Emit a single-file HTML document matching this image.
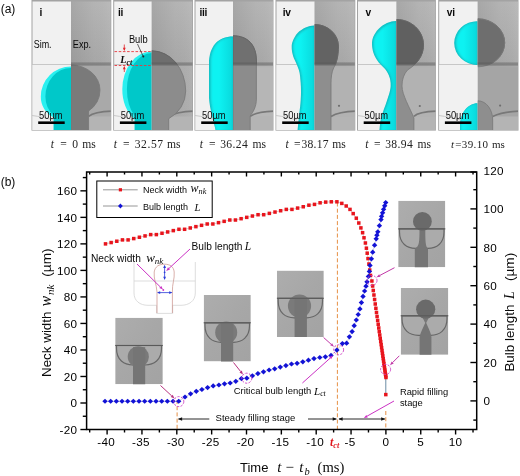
<!DOCTYPE html>
<html lang="en"><head><meta charset="utf-8"><title>Figure</title>
<style>html,body{margin:0;padding:0;background:#fff;}body{width:520px;height:476px;overflow:hidden;position:relative;}svg{position:absolute;left:0;top:0;display:block;}text{font-family:"Liberation Sans", Arial, sans-serif;fill:#0a0a0a;}.se{font-family:"Liberation Serif", "DejaVu Serif", serif;}.it{font-style:italic;}</style></head><body>
<svg width="520" height="476" viewBox="0 0 520 476">
<defs>
<filter id="b1" x="-20%" y="-20%" width="140%" height="140%"><feGaussianBlur stdDeviation="0.6"/></filter>
<filter id="b2" x="-20%" y="-20%" width="140%" height="140%"><feGaussianBlur stdDeviation="1.1"/></filter>
<filter id="b3" x="-20%" y="-20%" width="140%" height="140%"><feGaussianBlur stdDeviation="2"/></filter>
<filter id="b05" x="-20%" y="-20%" width="140%" height="140%"><feGaussianBlur stdDeviation="0.35"/></filter>
<linearGradient id="cy" x1="0" y1="0" x2="1" y2="0"><stop offset="0" stop-color="#12e6e6"/><stop offset="0.55" stop-color="#05d4d4"/><stop offset="1" stop-color="#00cccc"/></linearGradient>
</defs>
<linearGradient id="shade" x1="0" y1="0" x2="1" y2="0"><stop offset="0" stop-color="#009aa6" stop-opacity="0"/><stop offset="1" stop-color="#009aa6" stop-opacity="0.3"/></linearGradient>
<linearGradient id="hg" x1="0" y1="0" x2="1" y2="0"><stop offset="0" stop-color="#000" stop-opacity="0.09"/><stop offset="0.6" stop-color="#000" stop-opacity="0.02"/><stop offset="1" stop-color="#fff" stop-opacity="0.04"/></linearGradient>
<linearGradient id="eg" x1="0" y1="0" x2="0" y2="1"><stop offset="0" stop-color="#b8b8b8"/><stop offset="0.49" stop-color="#aaaaaa"/><stop offset="0.5" stop-color="#aeaeae"/><stop offset="1" stop-color="#acacac"/></linearGradient>
<clipPath id="up"><rect x="0" y="0" width="520" height="64.5"/></clipPath>
<clipPath id="cs0"><rect x="32" y="1.5" width="39" height="128.5"/></clipPath>
<clipPath id="ce0"><rect x="71" y="1.5" width="39.8" height="128.5"/></clipPath>
<clipPath id="cs1"><rect x="113.7" y="1.5" width="38" height="128.5"/></clipPath>
<clipPath id="ce1"><rect x="151.7" y="1.5" width="40.8" height="128.5"/></clipPath>
<clipPath id="cs2"><rect x="195" y="1.5" width="38" height="128.5"/></clipPath>
<clipPath id="ce2"><rect x="233" y="1.5" width="40" height="128.5"/></clipPath>
<clipPath id="cs3"><rect x="276" y="1.5" width="38.6" height="128.5"/></clipPath>
<clipPath id="ce3"><rect x="314.6" y="1.5" width="40.2" height="128.5"/></clipPath>
<clipPath id="cs4"><rect x="357.5" y="1.5" width="39" height="128.5"/></clipPath>
<clipPath id="ce4"><rect x="396.5" y="1.5" width="38.9" height="128.5"/></clipPath>
<clipPath id="cs5"><rect x="438.7" y="1.5" width="39" height="128.5"/></clipPath>
<clipPath id="ce5"><rect x="477.7" y="1.5" width="40.3" height="128.5"/></clipPath>
<rect x="31.5" y="0" width="79.8" height="130.6" fill="#a3a3a3"/>
<g clip-path="url(#cs0)">
<rect x="32.5" y="0" width="39" height="131" fill="#f1f1f1"/>
<rect x="32.5" y="64.5" width="39" height="66" fill="#f1f1f1"/>
<line x1="32" y1="64.5" x2="71" y2="64.5" stroke="#bdbdbd" stroke-width="0.8"/>
<path d="M32 115.5 C40 116.5 46 118 53.5 120" fill="none" stroke="#c4c4c4" stroke-width="0.9"/>
<path d="M71 66.5 A30.2 30 0 0 0 40.8 96.5 A30.2 26 0 0 0 53.7 117.81 L53.7 131 L71 131 Z" fill="#2cf0f0" filter="url(#b05)"/>
<path d="M71 67.88 A25.6 28.62 0 0 0 45.4 96.5 A25.6 26 0 0 0 53.7 115.66 L53.7 131 L71 131 Z" fill="#04c8c9" filter="url(#b1)"/>
</g>
<g clip-path="url(#ce0)">
<rect x="71" y="0" width="39.8" height="131" fill="url(#eg)"/>
<rect x="71" y="0" width="39.8" height="131" fill="url(#hg)"/>
<rect x="71" y="66" width="42.8" height="60" fill="#a9a9a9" filter="url(#b2)"/>
<rect x="88.6" y="116.4" width="39.8" height="18" fill="#b4b4b4" filter="url(#b1)"/>
<path d="M111.8 111.2 C100.8 111.6 92.8 113 88.6 116.4" fill="none" stroke="#787878" stroke-width="1.7" filter="url(#b1)"/>
<path d="M71 65 A29 25 0 0 1 100 90 A29 26.5 0 0 1 88.6 111.06 L88.6 131 L71 131 Z" fill="#7a7a7a" stroke="#777777" stroke-width="0.8" filter="url(#b1)"/>
<g clip-path="url(#up)"><path d="M71 65 A29 25 0 0 1 100 90 A29 26.5 0 0 1 88.6 111.06 L88.6 131 L71 131 Z" fill="#787878" stroke="#666666" stroke-width="1" filter="url(#b1)"/></g>
<rect x="67" y="62.9" width="47.8" height="2.4" fill="#585858" opacity="0.7" filter="url(#b2)"/>
</g>
<rect x="113.2" y="0" width="79.8" height="130.6" fill="#a3a3a3"/>
<g clip-path="url(#cs1)">
<rect x="114.2" y="0" width="38" height="131" fill="#f1f1f1"/>
<rect x="114.2" y="64.5" width="38" height="66" fill="#f1f1f1"/>
<line x1="113.7" y1="64.5" x2="151.7" y2="64.5" stroke="#bdbdbd" stroke-width="0.8"/>
<path d="M113.7 115.5 C121.7 116.5 127.7 118 134.2 120" fill="none" stroke="#c4c4c4" stroke-width="0.9"/>
<path d="M151.7 51.5 A29.4 37.5 0 0 0 122.3 89 A29.4 37.5 0 0 0 134.7 119.6 L134.7 131 L151.7 131 Z" fill="#2cf0f0" filter="url(#b05)"/>
<path d="M151.7 52.88 A24.8 36.12 0 0 0 126.9 89 A24.8 37.5 0 0 0 134.7 116.3 L134.7 131 L151.7 131 Z" fill="#04c8c9" filter="url(#b1)"/>
</g>
<g clip-path="url(#ce1)">
<rect x="151.7" y="0" width="40.8" height="131" fill="url(#eg)"/>
<rect x="151.7" y="0" width="40.8" height="131" fill="url(#hg)"/>
<rect x="168.7" y="116.4" width="40.8" height="18" fill="#b4b4b4" filter="url(#b1)"/>
<path d="M193.5 111.2 C182.5 111.6 174.5 113 168.7 116.4" fill="none" stroke="#787878" stroke-width="1.7" filter="url(#b1)"/>
<path d="M151.7 50.8 A34 40.2 0 0 1 185.7 91 A34 32 0 0 1 168.7 118.71 L168.7 131 L151.7 131 Z" fill="#8c8c8c" stroke="#777777" stroke-width="0.8" filter="url(#b1)"/>
<g clip-path="url(#up)"><path d="M151.7 50.8 A34 40.2 0 0 1 185.7 91 A34 32 0 0 1 168.7 118.71 L168.7 131 L151.7 131 Z" fill="#6e6e6e" stroke="#666666" stroke-width="1" filter="url(#b1)"/></g>
<rect x="147.7" y="62.9" width="48.8" height="2.4" fill="#585858" opacity="0.7" filter="url(#b2)"/>
</g>
<rect x="194.5" y="0" width="79" height="130.6" fill="#a3a3a3"/>
<g clip-path="url(#cs2)">
<rect x="195.5" y="0" width="38" height="131" fill="#f1f1f1"/>
<rect x="195.5" y="64.5" width="38" height="66" fill="#f1f1f1"/>
<line x1="195" y1="64.5" x2="233" y2="64.5" stroke="#bdbdbd" stroke-width="0.8"/>
<path d="M195 115.5 C203 116.5 209 118 215.5 120" fill="none" stroke="#c4c4c4" stroke-width="0.9"/>
<clipPath id="cd2"><path d="M233 36.5 C218.12 36.5 209 46 209 64 L209 98 C209.8 110 214 122 215.8 131 L233 131 Z"/></clipPath>
<path d="M233 36.5 C218.12 36.5 209 46 209 64 L209 98 C209.8 110 214 122 215.8 131 L233 131 Z" fill="#16bec2" filter="url(#b05)"/>
<g clip-path="url(#cd2)"><path d="M233 37.04 C219.24 37.04 210.8 46 210.8 64 L210.8 98 C211.6 110 214.54 122 215.8 131 L233 131 Z" fill="#0cf2f2" filter="url(#b2)"/>
<rect x="219" y="0" width="14" height="131" fill="url(#shade)"/></g>
</g>
<g clip-path="url(#ce2)">
<rect x="233" y="0" width="40" height="131" fill="url(#eg)"/>
<rect x="233" y="0" width="40" height="131" fill="url(#hg)"/>
<rect x="233" y="66" width="43" height="60" fill="#b6b6b6" filter="url(#b2)"/>
<rect x="250.2" y="116.4" width="40" height="18" fill="#b4b4b4" filter="url(#b1)"/>
<path d="M274 111.2 C263 111.6 255 113 250.2 116.4" fill="none" stroke="#787878" stroke-width="1.7" filter="url(#b1)"/>
<path d="M233 35.8 C248 35.8 256.4 45 256.4 61 L256.4 99 C256.4 107 253 112 250.2 116 L250.2 131 L233 131 Z" fill="#8c8c8c" stroke="#777777" stroke-width="0.8" filter="url(#b1)"/>
<g clip-path="url(#up)"><path d="M233 35.8 C248 35.8 256.4 45 256.4 61 L256.4 99 C256.4 107 253 112 250.2 116 L250.2 131 L233 131 Z" fill="#707070" stroke="#666666" stroke-width="1" filter="url(#b1)"/></g>
<rect x="229" y="62.9" width="48" height="2.4" fill="#585858" opacity="0.7" filter="url(#b2)"/>
</g>
<rect x="275.5" y="0" width="79.8" height="130.6" fill="#a3a3a3"/>
<g clip-path="url(#cs3)">
<rect x="276.5" y="0" width="38.6" height="131" fill="#f1f1f1"/>
<rect x="276.5" y="64.5" width="38.6" height="66" fill="#f1f1f1"/>
<line x1="276" y1="64.5" x2="314.6" y2="64.5" stroke="#bdbdbd" stroke-width="0.8"/>
<path d="M276 115.5 C284 116.5 290 118 297.1 120" fill="none" stroke="#c4c4c4" stroke-width="0.9"/>
<clipPath id="cd3"><path d="M314.6 25.5 C311.6 25.5 308.43 26.25 305.6 27.5 C302.77 28.75 299.73 30.75 297.6 33 C295.47 35.25 293.78 38.58 292.8 41 C291.82 43.42 291.65 45 291.7 47.5 C291.75 50 292.25 53.17 293.1 56 C293.95 58.83 295.75 61.83 296.8 64.5 C297.85 67.17 298.77 69.08 299.4 72 C300.03 74.92 300.33 78.67 300.6 82 C300.87 85.33 301.03 88.33 301 92 C300.97 95.67 300.72 100.17 300.4 104 C300.08 107.83 299.58 110.5 299.1 115 C298.62 119.5 298.03 125.67 297.5 131 L314.6 131 Z"/></clipPath>
<path d="M314.6 25.5 C311.6 25.5 308.43 26.25 305.6 27.5 C302.77 28.75 299.73 30.75 297.6 33 C295.47 35.25 293.78 38.58 292.8 41 C291.82 43.42 291.65 45 291.7 47.5 C291.75 50 292.25 53.17 293.1 56 C293.95 58.83 295.75 61.83 296.8 64.5 C297.85 67.17 298.77 69.08 299.4 72 C300.03 74.92 300.33 78.67 300.6 82 C300.87 85.33 301.03 88.33 301 92 C300.97 95.67 300.72 100.17 300.4 104 C300.08 107.83 299.58 110.5 299.1 115 C298.62 119.5 298.03 125.67 297.5 131 L314.6 131 Z" fill="#16bec2" filter="url(#b05)"/>
<g clip-path="url(#cd3)"><path d="M314.6 26.4 C312.11 26.4 309.71 27.15 307.13 28.4 C304.55 29.65 301.26 31.8 299.13 33.9 C297 36 295.31 38.73 294.33 41 C293.35 43.27 293.18 45 293.23 47.5 C293.28 50 293.78 53.17 294.63 56 C295.48 58.83 297.28 61.83 298.33 64.5 C299.38 67.17 300.3 69.08 300.93 72 C301.56 74.92 301.86 78.67 302.13 82 C302.4 85.33 302.56 88.33 302.53 92 C302.5 95.67 302.25 100.17 301.93 104 C301.61 107.83 301.11 110.5 300.63 115 C300.15 119.5 299.56 125.67 299.03 131 L314.6 131 Z" fill="#0cf2f2" filter="url(#b2)"/>
<rect x="300.6" y="0" width="14" height="131" fill="url(#shade)"/></g>
</g>
<g clip-path="url(#ce3)">
<rect x="314.6" y="0" width="40.2" height="131" fill="url(#eg)"/>
<rect x="314.6" y="0" width="40.2" height="131" fill="url(#hg)"/>
<rect x="314.6" y="66" width="43.2" height="60" fill="#b2b2b2" filter="url(#b2)"/>
<rect x="331" y="116.4" width="40.2" height="18" fill="#b4b4b4" filter="url(#b1)"/>
<path d="M355.8 111.2 C344.8 111.6 336.8 113 331 116.4" fill="none" stroke="#787878" stroke-width="1.7" filter="url(#b1)"/>
<path d="M314.6 24.5 C328.6 24.5 338.4 35 338.4 46 C338.4 56 336.6 63 333.6 68 C331.8 72 331 77 331 84 L331 131 L314.6 131 Z" fill="#8e8e8e" stroke="#777777" stroke-width="0.8" filter="url(#b1)"/>
<g clip-path="url(#up)"><path d="M314.6 24.5 C328.6 24.5 338.4 35 338.4 46 C338.4 56 336.6 63 333.6 68 C331.8 72 331 77 331 84 L331 131 L314.6 131 Z" fill="#646464" stroke="#666666" stroke-width="1" filter="url(#b1)"/></g>
<rect x="310.6" y="62.9" width="48.2" height="2.4" fill="#585858" opacity="0.7" filter="url(#b2)"/>
</g>
<rect x="357" y="0" width="78.9" height="130.6" fill="#a3a3a3"/>
<g clip-path="url(#cs4)">
<rect x="358" y="0" width="39" height="131" fill="#f1f1f1"/>
<rect x="358" y="64.5" width="39" height="66" fill="#f1f1f1"/>
<line x1="357.5" y1="64.5" x2="396.5" y2="64.5" stroke="#bdbdbd" stroke-width="0.8"/>
<path d="M357.5 115.5 C365.5 116.5 371.5 118 379 120" fill="none" stroke="#c4c4c4" stroke-width="0.9"/>
<clipPath id="cd4"><path d="M396.5 21 C393.33 21 390 21.67 387 23 C384 24.33 380.8 26.67 378.5 29 C376.2 31.33 374.28 34.42 373.2 37 C372.12 39.58 371.95 41.83 372 44.5 C372.05 47.17 372.67 50.42 373.5 53 C374.33 55.58 375.8 58.08 377 60 C378.2 61.92 379.28 62.92 380.7 64.5 C382.12 66.08 384.2 67.83 385.5 69.5 C386.8 71.17 387.7 72.75 388.5 74.5 C389.3 76.25 389.93 78.08 390.3 80 C390.67 81.92 390.8 84 390.7 86 C390.6 88 390.4 89.33 389.7 92 C389 94.67 387.78 98.17 386.5 102 C385.22 105.83 383.05 111.5 382 115 C380.95 118.5 380.63 120.33 380.2 123 C379.77 125.67 379.67 128.33 379.4 131 L396.5 131 Z"/></clipPath>
<path d="M396.5 21 C393.33 21 390 21.67 387 23 C384 24.33 380.8 26.67 378.5 29 C376.2 31.33 374.28 34.42 373.2 37 C372.12 39.58 371.95 41.83 372 44.5 C372.05 47.17 372.67 50.42 373.5 53 C374.33 55.58 375.8 58.08 377 60 C378.2 61.92 379.28 62.92 380.7 64.5 C382.12 66.08 384.2 67.83 385.5 69.5 C386.8 71.17 387.7 72.75 388.5 74.5 C389.3 76.25 389.93 78.08 390.3 80 C390.67 81.92 390.8 84 390.7 86 C390.6 88 390.4 89.33 389.7 92 C389 94.67 387.78 98.17 386.5 102 C385.22 105.83 383.05 111.5 382 115 C380.95 118.5 380.63 120.33 380.2 123 C379.77 125.67 379.67 128.33 379.4 131 L396.5 131 Z" fill="#16bec2" filter="url(#b05)"/>
<g clip-path="url(#cd4)"><path d="M396.5 21.9 C393.84 21.9 391.27 22.57 388.53 23.9 C385.78 25.23 382.33 27.72 380.03 29.9 C377.73 32.08 375.81 34.57 374.73 37 C373.65 39.43 373.48 41.83 373.53 44.5 C373.58 47.17 374.2 50.42 375.03 53 C375.86 55.58 377.33 58.08 378.53 60 C379.73 61.92 380.81 62.92 382.23 64.5 C383.65 66.08 385.76 67.83 387.03 69.5 C388.3 71.17 389.14 72.75 389.86 74.5 C390.58 76.25 391.05 78.08 391.35 80 C391.66 81.92 391.77 84 391.69 86 C391.6 88 391.47 89.33 390.86 92 C390.25 94.67 389.25 98.17 388.03 102 C386.81 105.83 384.58 111.5 383.53 115 C382.48 118.5 382.16 120.33 381.73 123 C381.3 125.67 381.2 128.33 380.93 131 L396.5 131 Z" fill="#0cf2f2" filter="url(#b2)"/>
<rect x="382.5" y="0" width="14" height="131" fill="url(#shade)"/></g>
</g>
<g clip-path="url(#ce4)">
<rect x="396.5" y="0" width="38.9" height="131" fill="url(#eg)"/>
<rect x="396.5" y="0" width="38.9" height="131" fill="url(#hg)"/>
<rect x="396.5" y="66" width="41.9" height="60" fill="#b2b2b2" filter="url(#b2)"/>
<rect x="413.9" y="116.4" width="38.9" height="18" fill="#b4b4b4" filter="url(#b1)"/>
<path d="M436.4 111.2 C425.4 111.6 417.4 113 413.9 116.4" fill="none" stroke="#787878" stroke-width="1.7" filter="url(#b1)"/>
<path d="M396.5 19.5 C411.5 19.5 423.5 31 423.5 45 C423.5 57 415.5 65 407.5 70 C404 74 402 79 402 86 C402 95 410 108 413.9 118 L413.9 131 L396.5 131 Z" fill="#8e8e8e" stroke="#777777" stroke-width="0.8" filter="url(#b1)"/>
<g clip-path="url(#up)"><path d="M396.5 19.5 C411.5 19.5 423.5 31 423.5 45 C423.5 57 415.5 65 407.5 70 C404 74 402 79 402 86 C402 95 410 108 413.9 118 L413.9 131 L396.5 131 Z" fill="#606060" stroke="#666666" stroke-width="1" filter="url(#b1)"/></g>
<rect x="392.5" y="62.9" width="46.9" height="2.4" fill="#585858" opacity="0.7" filter="url(#b2)"/>
</g>
<rect x="438.2" y="0" width="80.3" height="130.6" fill="#a3a3a3"/>
<g clip-path="url(#cs5)">
<rect x="439.2" y="0" width="39" height="131" fill="#f1f1f1"/>
<rect x="439.2" y="64.5" width="39" height="66" fill="#f1f1f1"/>
<line x1="438.7" y1="64.5" x2="477.7" y2="64.5" stroke="#bdbdbd" stroke-width="0.8"/>
<path d="M438.7 115.5 C446.7 116.5 452.7 118 460.2 120" fill="none" stroke="#c4c4c4" stroke-width="0.9"/>
<clipPath id="cd5"><path d="M477.7 21.2 A23.5 21.9 0 0 0 477.7 65 Z M477.7 103.3 C467.7 103.3 460 113 460 126 L460 131 L477.7 131 Z"/></clipPath>
<path d="M477.7 21.2 A23.5 21.9 0 0 0 477.7 65 Z M477.7 103.3 C467.7 103.3 460 113 460 126 L460 131 L477.7 131 Z" fill="#16bec2" filter="url(#b05)"/>
<g clip-path="url(#cd5)"><path d="M477.7 21.74 A21.7 21.36 0 0 0 477.7 64.46 Z M477.7 103.3 C467.7 103.3 460.72 113 460.72 126 L460.72 131 L477.7 131 Z" fill="#0cf2f2" filter="url(#b2)"/>
<rect x="463.7" y="0" width="14" height="131" fill="url(#shade)"/></g>
</g>
<g clip-path="url(#ce5)">
<rect x="477.7" y="0" width="40.3" height="131" fill="url(#eg)"/>
<rect x="477.7" y="0" width="40.3" height="131" fill="url(#hg)"/>
<rect x="477.7" y="66" width="43.3" height="60" fill="#a5a5a5" filter="url(#b2)"/>
<rect x="492.7" y="116.4" width="40.3" height="18" fill="#b4b4b4" filter="url(#b1)"/>
<path d="M519 111.2 C508 111.6 500 113 492.7 116.4" fill="none" stroke="#787878" stroke-width="1.7" filter="url(#b1)"/>
<path d="M477.7 18.8 A27 24 0 0 1 477.7 66.8 Z M477.7 100.8 C486.7 100.8 492.7 110 492.7 120 L492.7 131 L477.7 131 Z" fill="#8e8e8e" stroke="#777777" stroke-width="0.8" filter="url(#b1)"/>
<g clip-path="url(#up)"><path d="M477.7 18.8 A27 24 0 0 1 477.7 66.8 Z M477.7 100.8 C486.7 100.8 492.7 110 492.7 120 L492.7 131 L477.7 131 Z" fill="#6e6e6e" stroke="#777777" stroke-width="1" filter="url(#b1)"/></g>
<rect x="473.7" y="62.9" width="48.3" height="2.4" fill="#585858" opacity="0.7" filter="url(#b2)"/>
</g>
<circle cx="339" cy="105.8" r="1.1" fill="#6e6e6e" filter="url(#b05)"/>
<circle cx="419.8" cy="106" r="1.1" fill="#6e6e6e" filter="url(#b05)"/>
<circle cx="500.1" cy="105.6" r="1.1" fill="#6e6e6e" filter="url(#b05)"/>
<text x="39.6" y="15.7" font-size="10.2" font-weight="bold" letter-spacing="-0.3">i</text>
<text x="117.9" y="15.7" font-size="10.2" font-weight="bold" letter-spacing="-0.3">ii</text>
<text x="199.4" y="15.7" font-size="10.2" font-weight="bold" letter-spacing="-0.3">iii</text>
<text x="282.7" y="15.7" font-size="10.2" font-weight="bold" letter-spacing="-0.3">iv</text>
<text x="365.5" y="15.7" font-size="10.2" font-weight="bold" letter-spacing="-0.3">v</text>
<text x="446.8" y="15.7" font-size="10.2" font-weight="bold" letter-spacing="-0.3">vi</text>
<text x="33.7" y="47.6" font-size="10.3" textLength="17.9" lengthAdjust="spacingAndGlyphs">Sim.</text>
<text x="72.8" y="47.6" font-size="10.3" textLength="18.3" lengthAdjust="spacingAndGlyphs">Exp.</text>
<rect x="38.2" y="121.4" width="26.5" height="2.6" fill="#000"/>
<text x="39" y="119.3" font-size="10.3" textLength="23.6" lengthAdjust="spacingAndGlyphs">50µm</text>
<rect x="119.9" y="121.4" width="26.5" height="2.6" fill="#000"/>
<text x="120.7" y="119.3" font-size="10.3" textLength="23.6" lengthAdjust="spacingAndGlyphs">50µm</text>
<rect x="201.2" y="121.4" width="26.5" height="2.6" fill="#000"/>
<text x="202" y="119.3" font-size="10.3" textLength="23.6" lengthAdjust="spacingAndGlyphs">50µm</text>
<rect x="282.2" y="121.4" width="26.5" height="2.6" fill="#000"/>
<text x="283" y="119.3" font-size="10.3" textLength="23.6" lengthAdjust="spacingAndGlyphs">50µm</text>
<rect x="363.7" y="121.4" width="26.5" height="2.6" fill="#000"/>
<text x="364.5" y="119.3" font-size="10.3" textLength="23.6" lengthAdjust="spacingAndGlyphs">50µm</text>
<rect x="444.9" y="121.4" width="26.5" height="2.6" fill="#000"/>
<text x="445.7" y="119.3" font-size="10.3" textLength="23.6" lengthAdjust="spacingAndGlyphs">50µm</text>
<g stroke="#e8383e" stroke-width="0.9" stroke-dasharray="2.6 1.6" fill="none">
<line x1="114.5" y1="51.6" x2="152" y2="51.6"/><line x1="114.5" y1="65.5" x2="152" y2="65.5"/></g>
<g stroke="#e0252b" stroke-width="0.8" fill="#e0252b"><line x1="124.3" y1="44.5" x2="124.3" y2="50"/><path d="M124.3 51 L122.9 47.8 L125.7 47.8 Z" stroke="none"/><line x1="124.3" y1="72" x2="124.3" y2="67"/><path d="M124.3 66 L122.9 69.2 L125.7 69.2 Z" stroke="none"/></g>
<text x="128.9" y="42.7" font-size="10" textLength="18.7" lengthAdjust="spacingAndGlyphs">Bulb</text>
<line x1="137.5" y1="44" x2="143" y2="56" stroke="#222" stroke-width="0.7"/><circle cx="143.3" cy="56.6" r="1" fill="#222"/>
<text x="120.3" y="63.3" font-size="10.2" class="se it" font-weight="bold">L<tspan font-size="7.8" dy="1.8">ct</tspan></text>
<text y="148" font-size="11.6" class="se" style="fill:#222"><tspan x="50.8" class="it">t</tspan><tspan x="60.2">=</tspan><tspan x="72.3">0</tspan><tspan x="82.2">ms</tspan></text>
<text y="148" font-size="11.6" class="se" style="fill:#222"><tspan x="113.8" class="it">t</tspan><tspan x="123">=</tspan><tspan x="134.8" textLength="28.2" lengthAdjust="spacing">32.57</tspan><tspan x="167">ms</tspan></text>
<text y="148" font-size="11.6" class="se" style="fill:#222"><tspan x="199.8" class="it">t</tspan><tspan x="209">=</tspan><tspan x="220.2" textLength="27.6" lengthAdjust="spacing">36.24</tspan><tspan x="252.5">ms</tspan></text>
<text y="148" font-size="11.6" class="se" style="fill:#222"><tspan x="285.4" class="it">t</tspan><tspan x="294">=</tspan><tspan x="301.4" textLength="27.1" lengthAdjust="spacing">38.17</tspan><tspan x="332.2">ms</tspan></text>
<text y="148" font-size="11.6" class="se" style="fill:#222"><tspan x="365.2" class="it">t</tspan><tspan x="374">=</tspan><tspan x="385.2" textLength="27.6" lengthAdjust="spacing">38.94</tspan><tspan x="417.5">ms</tspan></text>
<text y="148" font-size="11" class="se" style="fill:#222"><tspan x="451" class="it">t</tspan><tspan x="455.2">=</tspan><tspan x="461.8" textLength="26.2" lengthAdjust="spacing">39.10</tspan><tspan x="492">ms</tspan></text>
<text x="0.7" y="13.4" font-size="12">(a)</text>
<text x="0.7" y="186.3" font-size="12">(b)</text>
<linearGradient id="ig" x1="0" y1="0" x2="1" y2="1"><stop offset="0" stop-color="#adadad"/><stop offset="0.5" stop-color="#a7a7a7"/><stop offset="1" stop-color="#a3a3a3"/></linearGradient>
<clipPath id="in115"><rect x="115.2" y="317.7" width="47.6" height="66.5"/></clipPath>
<g clip-path="url(#in115)">
<rect x="115.2" y="317.7" width="47.6" height="66.5" fill="url(#ig)"/>
<path d="M116.5 345.5 L116.5 348.5 C116.5 359.93 124.15 365 132.7 365 L145.3 365 C153.85 365 161.5 359.93 161.5 348.5 L161.5 345.5 Z" fill="#ababab" stroke="#686868" stroke-width="1.2" filter="url(#b05)"/>
<g filter="url(#b05)"><circle cx="138.3" cy="356.8" r="10.6" fill="#7a7a7a"/><rect x="133" y="347.2" width="12.2" height="40.7" fill="#747474"/></g>
<rect x="113.2" y="344.9" width="51.6" height="1.15" fill="#5a5a5a" filter="url(#b05)"/>
</g>
<clipPath id="in203"><rect x="203.7" y="294.9" width="47.1" height="66.5"/></clipPath>
<g clip-path="url(#in203)">
<rect x="203.7" y="294.9" width="47.1" height="66.5" fill="url(#ig)"/>
<path d="M205 322.8 L205 325.8 C205 337.23 212.56 342.3 221.02 342.3 L233.48 342.3 C241.94 342.3 249.5 337.23 249.5 325.8 L249.5 322.8 Z" fill="#ababab" stroke="#686868" stroke-width="1.2" filter="url(#b05)"/>
<g filter="url(#b05)"><circle cx="226.2" cy="332.4" r="11" fill="#7a7a7a"/><rect x="221" y="323.8" width="12.2" height="40.6" fill="#747474"/></g>
<rect x="201.7" y="322.2" width="51.1" height="1.15" fill="#5a5a5a" filter="url(#b05)"/>
</g>
<clipPath id="in276"><rect x="276.9" y="270.6" width="46.9" height="66.5"/></clipPath>
<g clip-path="url(#in276)">
<rect x="276.9" y="270.6" width="46.9" height="66.5" fill="url(#ig)"/>
<path d="M278.2 298.3 L278.2 301.3 C278.2 312.73 285.73 317.8 294.15 317.8 L306.55 317.8 C314.97 317.8 322.5 312.73 322.5 301.3 L322.5 298.3 Z" fill="#ababab" stroke="#686868" stroke-width="1.2" filter="url(#b05)"/>
<g filter="url(#b05)"><circle cx="299.5" cy="306" r="11.6" fill="#7a7a7a"/><rect x="294.6" y="299.3" width="12.3" height="40.8" fill="#747474"/></g>
<rect x="274.9" y="297.7" width="50.9" height="1.15" fill="#5a5a5a" filter="url(#b05)"/>
</g>
<clipPath id="in398"><rect x="398.2" y="200.7" width="47.1" height="66.5"/></clipPath>
<g clip-path="url(#in398)">
<rect x="398.2" y="200.7" width="47.1" height="66.5" fill="url(#ig)"/>
<path d="M399.5 228.9 L399.5 231.9 C399.5 243.33 407.06 248.4 415.52 248.4 L427.98 248.4 C436.44 248.4 444 243.33 444 231.9 L444 228.9 Z" fill="#ababab" stroke="#686868" stroke-width="1.2" filter="url(#b05)"/>
<g filter="url(#b05)"><path fill="#747474" d="M419.5 228.8 C419.5 240.8 419.4 247.3 414.8 248.3 L414.8 269.2 L428 269.2 L428 248.3 C425.4 247.3 425.3 240.8 425.3 228.8 Z"/><circle cx="422.4" cy="221.4" r="9.4" fill="#6a6a6a"/></g>
<rect x="396.2" y="228.3" width="51.1" height="1.15" fill="#5a5a5a" filter="url(#b05)"/>
</g>
<clipPath id="in400"><rect x="400.7" y="288" width="47.6" height="66.8"/></clipPath>
<g clip-path="url(#in400)">
<rect x="400.7" y="288" width="47.6" height="66.8" fill="url(#ig)"/>
<path d="M402 315.8 L402 318.8 C402 330.23 409.65 335.3 418.2 335.3 L430.8 335.3 C439.35 335.3 447 330.23 447 318.8 L447 315.8 Z" fill="#ababab" stroke="#686868" stroke-width="1.2" filter="url(#b05)"/>
<g filter="url(#b05)"><path fill="#747474" d="M425.7 321.8 C423.7 326.8 420.7 331.8 419.6 336.8 L419.6 356.8 L431.4 356.8 L431.4 336.8 C430.7 331.8 427.7 326.8 425.7 321.8 Z"/><path fill="#787878" d="M422.3 317.3 L429.1 317.3 L425.7 323.8 Z"/><circle cx="425.7" cy="309.2" r="9.6" fill="#6a6a6a"/></g>
<rect x="398.7" y="315.2" width="51.6" height="1.15" fill="#5a5a5a" filter="url(#b05)"/>
</g>
<g fill="none" stroke="#d4d4d4" stroke-width="0.8">
<line x1="134" y1="281" x2="195.3" y2="281"/>
<path d="M134 262 L134 293 C134 301 140 305.3 148 305.3 L156.6 305.3 L156.6 313.4 L172.7 313.4 L172.7 305.3 L181 305.3 C189 305.3 195.3 301 195.3 293 L195.3 262"/>
</g>
<path d="M157 313 L157 292 C156.5 284 153.5 279 154.2 272 C155 266.5 159 264.2 164.5 264.2 C170 264.2 173.6 266.5 174.2 272 C174.8 279 172 284 172.4 292 L172.4 313" fill="none" stroke="#c98e86" stroke-width="0.7"/>
<g stroke="#2b3bd8" stroke-width="0.8" fill="#2b3bd8">
<line x1="164.6" y1="266" x2="164.6" y2="279"/><path d="M164.6 264.8 L163.2 268 L166 268 Z" stroke="none"/><path d="M164.6 280 L163.2 276.8 L166 276.8 Z" stroke="none"/>
<circle cx="164.6" cy="272.3" r="0.9" stroke="none"/>
<line x1="158" y1="292.6" x2="171.5" y2="292.6"/><path d="M157 292.6 L160.2 291.2 L160.2 294 Z" stroke="none"/><path d="M172.4 292.6 L169.2 291.2 L169.2 294 Z" stroke="none"/>
</g>
<line x1="137" y1="264" x2="160.29" y2="286.93" stroke="#cb32c4" stroke-width="1.0"/>
<path d="M163 289.6 L159.28 287.96 L161.31 285.9 Z" fill="#cb32c4"/>
<line x1="190" y1="249" x2="168.99" y2="268.42" stroke="#cb32c4" stroke-width="1.0"/>
<path d="M166.2 271 L168.01 267.36 L169.97 269.48 Z" fill="#cb32c4"/>
<circle cx="163.3" cy="290" r="0.9" fill="#cb32c4"/>
<g stroke="#e58a3c" stroke-width="0.95" stroke-dasharray="4 2.2" fill="none">
<line x1="177.1" y1="400" x2="177.1" y2="430"/>
<line x1="337.4" y1="202.5" x2="337.4" y2="430"/>
<line x1="385.8" y1="411" x2="385.8" y2="430"/>
</g>
<polyline points="105.5,243.88 111.15,242.55 116.8,241.23 122.45,239.9 128.1,239.9 133.75,238.58 139.4,237.25 145.05,235.92 150.7,234.6 156.35,234.6 162,233.27 167.65,231.95 173.3,230.62 178.95,229.29 184.6,229.29 190.25,227.97 195.9,226.64 201.55,225.32 207.2,223.99 212.85,223.99 218.5,222.66 224.15,221.34 229.8,220.01 235.45,220.01 241.1,218.69 246.75,217.36 252.4,216.03 258.05,214.71 263.7,214.71 269.35,213.38 275,212.06 280.65,210.73 286.3,209.4 291.95,209.4 297.6,208.08 303.25,206.75 308.9,205.2 314.5,204.4 320.1,202.8 325.7,202.1 331.3,201.8 336.9,201.8 341.8,203.4 346.2,206 350,209.4 353.2,213.6 356.3,218.2 358.8,223 360.9,227.9 362.6,232.7 364,237.8 365.4,243 366.4,248.2 367.2,253.2 368,258.6 368.9,264 369.7,270 370.5,275.4 371.9,281 372.63,286 373.28,290.5 373.94,295 374.6,299.5 375.25,304 375.88,308.3 376.49,312.5 377.07,316.5 377.66,320.5 378.21,324.3 378.75,328 379.27,331.6 379.77,335 380.25,338.3 380.71,341.5 381.17,344.6 381.6,347.6 382.03,350.5 382.43,353.3 382.83,356 383.21,358.6 383.57,361.1 383.92,363.5 384.26,365.8 384.58,368 384.88,370.1 385.17,372.1 385.45,374 385.71,375.8 385.96,377.5" fill="none" stroke="#b9a0a0" stroke-width="0.5"/>
<polyline points="105,401.25 110.67,401.25 116.34,401.25 122.01,401.25 127.68,401.25 133.35,401.25 139.02,401.25 144.69,401.25 150.36,401.25 156.03,401.25 161.7,401.25 167.37,401.25 173.04,401.25 178.71,401.25 185,397 190.6,393.8 196.3,391.3 201.9,389.5 207.6,387.6 213.2,385.9 218.9,385 224.5,383.8 230.2,383 235.8,381.3 241.4,378.6 246.8,378.2 252.4,375.8 257.9,373.6 263.5,371.8 269.1,370 274.7,368.8 280.3,367.1 285.9,365.6 291.5,364 297.1,363.3 302.8,361.8 308.4,360.2 314,358.6 319.8,357.5 325.4,356.8 331,355.4 336.9,350.1 342.4,343.6 346.6,343.2 349.4,336.8 352.1,331.6 354.2,325.7 356.3,320 358.2,314.5 359.9,308.9 361.4,302.6 363,296.4 364.6,291 366,286.2 367,281.8 368.4,276.4 369.4,271.4 370,265.4 371.4,258.8 372.7,252.2 374.6,245.2 376.2,238.8 376.9,235.2 377.8,231.8 379.4,225.7 381,219.6 381.6,216.3 382.6,212.8 383.6,209.3 384.7,205.8 385.7,202.6" fill="none" stroke="#9a9ac8" stroke-width="0.5"/>
<line x1="385.8" y1="378" x2="385.8" y2="394.6" stroke="#5b7f9a" stroke-width="0.9"/>
<g fill="#e8141c"><rect x="103.75" y="242.13" width="3.5" height="3.5"/><rect x="109.4" y="240.8" width="3.5" height="3.5"/><rect x="115.05" y="239.48" width="3.5" height="3.5"/><rect x="120.7" y="238.15" width="3.5" height="3.5"/><rect x="126.35" y="238.15" width="3.5" height="3.5"/><rect x="132" y="236.83" width="3.5" height="3.5"/><rect x="137.65" y="235.5" width="3.5" height="3.5"/><rect x="143.3" y="234.17" width="3.5" height="3.5"/><rect x="148.95" y="232.85" width="3.5" height="3.5"/><rect x="154.6" y="232.85" width="3.5" height="3.5"/><rect x="160.25" y="231.52" width="3.5" height="3.5"/><rect x="165.9" y="230.2" width="3.5" height="3.5"/><rect x="171.55" y="228.87" width="3.5" height="3.5"/><rect x="177.2" y="227.54" width="3.5" height="3.5"/><rect x="182.85" y="227.54" width="3.5" height="3.5"/><rect x="188.5" y="226.22" width="3.5" height="3.5"/><rect x="194.15" y="224.89" width="3.5" height="3.5"/><rect x="199.8" y="223.57" width="3.5" height="3.5"/><rect x="205.45" y="222.24" width="3.5" height="3.5"/><rect x="211.1" y="222.24" width="3.5" height="3.5"/><rect x="216.75" y="220.91" width="3.5" height="3.5"/><rect x="222.4" y="219.59" width="3.5" height="3.5"/><rect x="228.05" y="218.26" width="3.5" height="3.5"/><rect x="233.7" y="218.26" width="3.5" height="3.5"/><rect x="239.35" y="216.94" width="3.5" height="3.5"/><rect x="245" y="215.61" width="3.5" height="3.5"/><rect x="250.65" y="214.28" width="3.5" height="3.5"/><rect x="256.3" y="212.96" width="3.5" height="3.5"/><rect x="261.95" y="212.96" width="3.5" height="3.5"/><rect x="267.6" y="211.63" width="3.5" height="3.5"/><rect x="273.25" y="210.31" width="3.5" height="3.5"/><rect x="278.9" y="208.98" width="3.5" height="3.5"/><rect x="284.55" y="207.65" width="3.5" height="3.5"/><rect x="290.2" y="207.65" width="3.5" height="3.5"/><rect x="295.85" y="206.33" width="3.5" height="3.5"/><rect x="301.5" y="205" width="3.5" height="3.5"/><rect x="307.15" y="203.45" width="3.5" height="3.5"/><rect x="312.75" y="202.65" width="3.5" height="3.5"/><rect x="318.35" y="201.05" width="3.5" height="3.5"/><rect x="323.95" y="200.35" width="3.5" height="3.5"/><rect x="329.55" y="200.05" width="3.5" height="3.5"/><rect x="335.15" y="200.05" width="3.5" height="3.5"/><rect x="340.05" y="201.65" width="3.5" height="3.5"/><rect x="344.45" y="204.25" width="3.5" height="3.5"/><rect x="348.25" y="207.65" width="3.5" height="3.5"/><rect x="351.45" y="211.85" width="3.5" height="3.5"/><rect x="354.55" y="216.45" width="3.5" height="3.5"/><rect x="357.05" y="221.25" width="3.5" height="3.5"/><rect x="359.15" y="226.15" width="3.5" height="3.5"/><rect x="360.85" y="230.95" width="3.5" height="3.5"/><rect x="362.25" y="236.05" width="3.5" height="3.5"/><rect x="363.65" y="241.25" width="3.5" height="3.5"/><rect x="364.65" y="246.45" width="3.5" height="3.5"/><rect x="365.45" y="251.45" width="3.5" height="3.5"/><rect x="366.25" y="256.85" width="3.5" height="3.5"/><rect x="367.15" y="262.25" width="3.5" height="3.5"/><rect x="367.95" y="268.25" width="3.5" height="3.5"/><rect x="368.75" y="273.65" width="3.5" height="3.5"/><rect x="370.15" y="279.25" width="3.5" height="3.5"/><rect x="370.88" y="284.25" width="3.5" height="3.5"/><rect x="371.53" y="288.75" width="3.5" height="3.5"/><rect x="372.19" y="293.25" width="3.5" height="3.5"/><rect x="372.85" y="297.75" width="3.5" height="3.5"/><rect x="373.5" y="302.25" width="3.5" height="3.5"/><rect x="374.13" y="306.55" width="3.5" height="3.5"/><rect x="374.74" y="310.75" width="3.5" height="3.5"/><rect x="375.32" y="314.75" width="3.5" height="3.5"/><rect x="375.91" y="318.75" width="3.5" height="3.5"/><rect x="376.46" y="322.55" width="3.5" height="3.5"/><rect x="377" y="326.25" width="3.5" height="3.5"/><rect x="377.52" y="329.85" width="3.5" height="3.5"/><rect x="378.02" y="333.25" width="3.5" height="3.5"/><rect x="378.5" y="336.55" width="3.5" height="3.5"/><rect x="378.96" y="339.75" width="3.5" height="3.5"/><rect x="379.42" y="342.85" width="3.5" height="3.5"/><rect x="379.85" y="345.85" width="3.5" height="3.5"/><rect x="380.28" y="348.75" width="3.5" height="3.5"/><rect x="380.68" y="351.55" width="3.5" height="3.5"/><rect x="381.08" y="354.25" width="3.5" height="3.5"/><rect x="381.46" y="356.85" width="3.5" height="3.5"/><rect x="381.82" y="359.35" width="3.5" height="3.5"/><rect x="382.17" y="361.75" width="3.5" height="3.5"/><rect x="382.51" y="364.05" width="3.5" height="3.5"/><rect x="382.83" y="366.25" width="3.5" height="3.5"/><rect x="383.13" y="368.35" width="3.5" height="3.5"/><rect x="383.42" y="370.35" width="3.5" height="3.5"/><rect x="383.7" y="372.25" width="3.5" height="3.5"/><rect x="383.96" y="374.05" width="3.5" height="3.5"/><rect x="384.21" y="375.75" width="3.5" height="3.5"/><rect x="384.05" y="392.85" width="3.5" height="3.5"/></g>
<g fill="#1212d6"><path d="M105 398.65l2.7 2.6l-2.7 2.6l-2.7-2.6z"/><path d="M110.67 398.65l2.7 2.6l-2.7 2.6l-2.7-2.6z"/><path d="M116.34 398.65l2.7 2.6l-2.7 2.6l-2.7-2.6z"/><path d="M122.01 398.65l2.7 2.6l-2.7 2.6l-2.7-2.6z"/><path d="M127.68 398.65l2.7 2.6l-2.7 2.6l-2.7-2.6z"/><path d="M133.35 398.65l2.7 2.6l-2.7 2.6l-2.7-2.6z"/><path d="M139.02 398.65l2.7 2.6l-2.7 2.6l-2.7-2.6z"/><path d="M144.69 398.65l2.7 2.6l-2.7 2.6l-2.7-2.6z"/><path d="M150.36 398.65l2.7 2.6l-2.7 2.6l-2.7-2.6z"/><path d="M156.03 398.65l2.7 2.6l-2.7 2.6l-2.7-2.6z"/><path d="M161.7 398.65l2.7 2.6l-2.7 2.6l-2.7-2.6z"/><path d="M167.37 398.65l2.7 2.6l-2.7 2.6l-2.7-2.6z"/><path d="M173.04 398.65l2.7 2.6l-2.7 2.6l-2.7-2.6z"/><path d="M178.71 398.65l2.7 2.6l-2.7 2.6l-2.7-2.6z"/><path d="M185 394.4l2.7 2.6l-2.7 2.6l-2.7-2.6z"/><path d="M190.6 391.2l2.7 2.6l-2.7 2.6l-2.7-2.6z"/><path d="M196.3 388.7l2.7 2.6l-2.7 2.6l-2.7-2.6z"/><path d="M201.9 386.9l2.7 2.6l-2.7 2.6l-2.7-2.6z"/><path d="M207.6 385l2.7 2.6l-2.7 2.6l-2.7-2.6z"/><path d="M213.2 383.3l2.7 2.6l-2.7 2.6l-2.7-2.6z"/><path d="M218.9 382.4l2.7 2.6l-2.7 2.6l-2.7-2.6z"/><path d="M224.5 381.2l2.7 2.6l-2.7 2.6l-2.7-2.6z"/><path d="M230.2 380.4l2.7 2.6l-2.7 2.6l-2.7-2.6z"/><path d="M235.8 378.7l2.7 2.6l-2.7 2.6l-2.7-2.6z"/><path d="M241.4 376l2.7 2.6l-2.7 2.6l-2.7-2.6z"/><path d="M246.8 375.6l2.7 2.6l-2.7 2.6l-2.7-2.6z"/><path d="M252.4 373.2l2.7 2.6l-2.7 2.6l-2.7-2.6z"/><path d="M257.9 371l2.7 2.6l-2.7 2.6l-2.7-2.6z"/><path d="M263.5 369.2l2.7 2.6l-2.7 2.6l-2.7-2.6z"/><path d="M269.1 367.4l2.7 2.6l-2.7 2.6l-2.7-2.6z"/><path d="M274.7 366.2l2.7 2.6l-2.7 2.6l-2.7-2.6z"/><path d="M280.3 364.5l2.7 2.6l-2.7 2.6l-2.7-2.6z"/><path d="M285.9 363l2.7 2.6l-2.7 2.6l-2.7-2.6z"/><path d="M291.5 361.4l2.7 2.6l-2.7 2.6l-2.7-2.6z"/><path d="M297.1 360.7l2.7 2.6l-2.7 2.6l-2.7-2.6z"/><path d="M302.8 359.2l2.7 2.6l-2.7 2.6l-2.7-2.6z"/><path d="M308.4 357.6l2.7 2.6l-2.7 2.6l-2.7-2.6z"/><path d="M314 356l2.7 2.6l-2.7 2.6l-2.7-2.6z"/><path d="M319.8 354.9l2.7 2.6l-2.7 2.6l-2.7-2.6z"/><path d="M325.4 354.2l2.7 2.6l-2.7 2.6l-2.7-2.6z"/><path d="M331 352.8l2.7 2.6l-2.7 2.6l-2.7-2.6z"/><path d="M336.9 347.5l2.7 2.6l-2.7 2.6l-2.7-2.6z"/><path d="M342.4 341l2.7 2.6l-2.7 2.6l-2.7-2.6z"/><path d="M346.6 340.6l2.7 2.6l-2.7 2.6l-2.7-2.6z"/><path d="M349.4 334.2l2.7 2.6l-2.7 2.6l-2.7-2.6z"/><path d="M352.1 329l2.7 2.6l-2.7 2.6l-2.7-2.6z"/><path d="M354.2 323.1l2.7 2.6l-2.7 2.6l-2.7-2.6z"/><path d="M356.3 317.4l2.7 2.6l-2.7 2.6l-2.7-2.6z"/><path d="M358.2 311.9l2.7 2.6l-2.7 2.6l-2.7-2.6z"/><path d="M359.9 306.3l2.7 2.6l-2.7 2.6l-2.7-2.6z"/><path d="M361.4 300l2.7 2.6l-2.7 2.6l-2.7-2.6z"/><path d="M363 293.8l2.7 2.6l-2.7 2.6l-2.7-2.6z"/><path d="M364.6 288.4l2.7 2.6l-2.7 2.6l-2.7-2.6z"/><path d="M366 283.6l2.7 2.6l-2.7 2.6l-2.7-2.6z"/><path d="M367 279.2l2.7 2.6l-2.7 2.6l-2.7-2.6z"/><path d="M368.4 273.8l2.7 2.6l-2.7 2.6l-2.7-2.6z"/><path d="M369.4 268.8l2.7 2.6l-2.7 2.6l-2.7-2.6z"/><path d="M370 262.8l2.7 2.6l-2.7 2.6l-2.7-2.6z"/><path d="M371.4 256.2l2.7 2.6l-2.7 2.6l-2.7-2.6z"/><path d="M372.7 249.6l2.7 2.6l-2.7 2.6l-2.7-2.6z"/><path d="M374.6 242.6l2.7 2.6l-2.7 2.6l-2.7-2.6z"/><path d="M376.2 236.2l2.7 2.6l-2.7 2.6l-2.7-2.6z"/><path d="M376.9 232.6l2.7 2.6l-2.7 2.6l-2.7-2.6z"/><path d="M377.8 229.2l2.7 2.6l-2.7 2.6l-2.7-2.6z"/><path d="M379.4 223.1l2.7 2.6l-2.7 2.6l-2.7-2.6z"/><path d="M381 217l2.7 2.6l-2.7 2.6l-2.7-2.6z"/><path d="M381.6 213.7l2.7 2.6l-2.7 2.6l-2.7-2.6z"/><path d="M382.6 210.2l2.7 2.6l-2.7 2.6l-2.7-2.6z"/><path d="M383.6 206.7l2.7 2.6l-2.7 2.6l-2.7-2.6z"/><path d="M384.7 203.2l2.7 2.6l-2.7 2.6l-2.7-2.6z"/><path d="M385.7 200l2.7 2.6l-2.7 2.6l-2.7-2.6z"/></g>
<g fill="none" stroke="#cc40c4" stroke-width="0.95" stroke-dasharray="2.2 1.4">
<circle cx="178.8" cy="401.6" r="5"/>
<circle cx="246.8" cy="378.2" r="5"/>
<circle cx="338.6" cy="349.8" r="5"/>
<circle cx="372" cy="280.5" r="5"/>
<circle cx="385.6" cy="369.4" r="5"/>
</g>
<line x1="160.5" y1="385.5" x2="171.72" y2="395.91" stroke="#b8327f" stroke-width="1.0"/>
<path d="M174.5 398.5 L170.73 396.97 L172.7 394.86 Z" fill="#b8327f"/>
<line x1="233.5" y1="362.5" x2="240.64" y2="371.52" stroke="#b8327f" stroke-width="1.0"/>
<path d="M243 374.5 L239.51 372.42 L241.77 370.62 Z" fill="#b8327f"/>
<line x1="323.6" y1="337.5" x2="331.17" y2="344.27" stroke="#c238a8" stroke-width="1.0"/>
<path d="M334 346.8 L330.2 345.34 L332.13 343.19 Z" fill="#c238a8"/>
<line x1="302.4" y1="383" x2="330.17" y2="358.13" stroke="#cb32c4" stroke-width="1.0"/>
<path d="M333 355.6 L331.13 359.21 L329.21 357.06 Z" fill="#cb32c4"/>
<line x1="394.5" y1="267.7" x2="379.86" y2="275.43" stroke="#c238a8" stroke-width="1.0"/>
<path d="M376.5 277.2 L379.19 274.15 L380.53 276.7 Z" fill="#c238a8"/>
<line x1="399.3" y1="355.8" x2="392.67" y2="362.5" stroke="#c238a8" stroke-width="1.0"/>
<path d="M390 365.2 L391.65 361.48 L393.7 363.51 Z" fill="#c238a8"/>
<line x1="394" y1="401" x2="367.11" y2="416.14" stroke="#cb32c4" stroke-width="1.0"/>
<path d="M363.8 418 L366.4 414.88 L367.82 417.39 Z" fill="#cb32c4"/>
<line x1="178.5" y1="419" x2="209.3" y2="419" stroke="#111" stroke-width="0.9"/>
<path d="M178 419 L182.1 417.2 L182.1 420.8 Z" fill="#111"/>
<line x1="308" y1="419" x2="336.3" y2="419" stroke="#111" stroke-width="0.9"/>
<path d="M336.8 419 L332.7 417.2 L332.7 420.8 Z" fill="#111"/>
<line x1="339" y1="419" x2="384.8" y2="419" stroke="#111" stroke-width="0.9"/>
<path d="M338.5 419 L342.6 417.2 L342.6 420.8 Z" fill="#111"/>
<path d="M385.3 419 L381.2 417.2 L381.2 420.8 Z" fill="#111"/>
<rect x="86.6" y="172" width="390.1" height="257.5" fill="none" stroke="#000" stroke-width="1.5"/>
<g stroke="#000" stroke-width="1.4"><line x1="80.4" y1="429.52" x2="86.6" y2="429.52"/><line x1="82.8" y1="416.26" x2="86.6" y2="416.26"/><line x1="80.4" y1="403" x2="86.6" y2="403"/><line x1="82.8" y1="389.74" x2="86.6" y2="389.74"/><line x1="80.4" y1="376.48" x2="86.6" y2="376.48"/><line x1="82.8" y1="363.22" x2="86.6" y2="363.22"/><line x1="80.4" y1="349.96" x2="86.6" y2="349.96"/><line x1="82.8" y1="336.7" x2="86.6" y2="336.7"/><line x1="80.4" y1="323.44" x2="86.6" y2="323.44"/><line x1="82.8" y1="310.18" x2="86.6" y2="310.18"/><line x1="80.4" y1="296.92" x2="86.6" y2="296.92"/><line x1="82.8" y1="283.66" x2="86.6" y2="283.66"/><line x1="80.4" y1="270.4" x2="86.6" y2="270.4"/><line x1="82.8" y1="257.14" x2="86.6" y2="257.14"/><line x1="80.4" y1="243.88" x2="86.6" y2="243.88"/><line x1="82.8" y1="230.62" x2="86.6" y2="230.62"/><line x1="80.4" y1="217.36" x2="86.6" y2="217.36"/><line x1="82.8" y1="204.1" x2="86.6" y2="204.1"/><line x1="80.4" y1="190.84" x2="86.6" y2="190.84"/><line x1="82.8" y1="177.58" x2="86.6" y2="177.58"/><line x1="473.3" y1="420.1" x2="476.7" y2="420.1"/><line x1="470.4" y1="400.9" x2="476.7" y2="400.9"/><line x1="473.3" y1="381.7" x2="476.7" y2="381.7"/><line x1="470.4" y1="362.5" x2="476.7" y2="362.5"/><line x1="473.3" y1="343.3" x2="476.7" y2="343.3"/><line x1="470.4" y1="324.1" x2="476.7" y2="324.1"/><line x1="473.3" y1="304.9" x2="476.7" y2="304.9"/><line x1="470.4" y1="285.7" x2="476.7" y2="285.7"/><line x1="473.3" y1="266.5" x2="476.7" y2="266.5"/><line x1="470.4" y1="247.3" x2="476.7" y2="247.3"/><line x1="473.3" y1="228.1" x2="476.7" y2="228.1"/><line x1="470.4" y1="208.9" x2="476.7" y2="208.9"/><line x1="473.3" y1="189.7" x2="476.7" y2="189.7"/><line x1="470.4" y1="172" x2="476.7" y2="172"/><line x1="89.68" y1="429.5" x2="89.68" y2="432.5"/><line x1="89.68" y1="172" x2="89.68" y2="174.5"/><line x1="107.1" y1="429.5" x2="107.1" y2="434.5"/><line x1="107.1" y1="172" x2="107.1" y2="176.5"/><line x1="124.52" y1="429.5" x2="124.52" y2="432.5"/><line x1="124.52" y1="172" x2="124.52" y2="174.5"/><line x1="141.95" y1="429.5" x2="141.95" y2="434.5"/><line x1="141.95" y1="172" x2="141.95" y2="176.5"/><line x1="159.37" y1="429.5" x2="159.37" y2="432.5"/><line x1="159.37" y1="172" x2="159.37" y2="174.5"/><line x1="176.8" y1="429.5" x2="176.8" y2="434.5"/><line x1="176.8" y1="172" x2="176.8" y2="176.5"/><line x1="194.22" y1="429.5" x2="194.22" y2="432.5"/><line x1="194.22" y1="172" x2="194.22" y2="174.5"/><line x1="211.65" y1="429.5" x2="211.65" y2="434.5"/><line x1="211.65" y1="172" x2="211.65" y2="176.5"/><line x1="229.07" y1="429.5" x2="229.07" y2="432.5"/><line x1="229.07" y1="172" x2="229.07" y2="174.5"/><line x1="246.5" y1="429.5" x2="246.5" y2="434.5"/><line x1="246.5" y1="172" x2="246.5" y2="176.5"/><line x1="263.92" y1="429.5" x2="263.92" y2="432.5"/><line x1="263.92" y1="172" x2="263.92" y2="174.5"/><line x1="281.35" y1="429.5" x2="281.35" y2="434.5"/><line x1="281.35" y1="172" x2="281.35" y2="176.5"/><line x1="298.77" y1="429.5" x2="298.77" y2="432.5"/><line x1="298.77" y1="172" x2="298.77" y2="174.5"/><line x1="316.2" y1="429.5" x2="316.2" y2="434.5"/><line x1="316.2" y1="172" x2="316.2" y2="176.5"/><line x1="333.62" y1="429.5" x2="333.62" y2="432.5"/><line x1="333.62" y1="172" x2="333.62" y2="174.5"/><line x1="351.05" y1="429.5" x2="351.05" y2="434.5"/><line x1="351.05" y1="172" x2="351.05" y2="176.5"/><line x1="368.47" y1="429.5" x2="368.47" y2="432.5"/><line x1="368.47" y1="172" x2="368.47" y2="174.5"/><line x1="385.9" y1="429.5" x2="385.9" y2="434.5"/><line x1="385.9" y1="172" x2="385.9" y2="176.5"/><line x1="403.32" y1="429.5" x2="403.32" y2="432.5"/><line x1="403.32" y1="172" x2="403.32" y2="174.5"/><line x1="420.75" y1="429.5" x2="420.75" y2="434.5"/><line x1="420.75" y1="172" x2="420.75" y2="176.5"/><line x1="438.17" y1="429.5" x2="438.17" y2="432.5"/><line x1="438.17" y1="172" x2="438.17" y2="174.5"/><line x1="455.6" y1="429.5" x2="455.6" y2="434.5"/><line x1="455.6" y1="172" x2="455.6" y2="176.5"/><line x1="473.02" y1="429.5" x2="473.02" y2="432.5"/><line x1="473.02" y1="172" x2="473.02" y2="174.5"/></g>
<text x="77.2" y="433.72" font-size="11.7" letter-spacing="0.25" text-anchor="end" style="fill:#000">-20</text>
<text x="77.2" y="407.2" font-size="11.7" letter-spacing="0.25" text-anchor="end" style="fill:#000">0</text>
<text x="77.2" y="380.68" font-size="11.7" letter-spacing="0.25" text-anchor="end" style="fill:#000">20</text>
<text x="77.2" y="354.16" font-size="11.7" letter-spacing="0.25" text-anchor="end" style="fill:#000">40</text>
<text x="77.2" y="327.64" font-size="11.7" letter-spacing="0.25" text-anchor="end" style="fill:#000">60</text>
<text x="77.2" y="301.12" font-size="11.7" letter-spacing="0.25" text-anchor="end" style="fill:#000">80</text>
<text x="77.2" y="274.6" font-size="11.7" letter-spacing="0.25" text-anchor="end" style="fill:#000">100</text>
<text x="77.2" y="248.08" font-size="11.7" letter-spacing="0.25" text-anchor="end" style="fill:#000">120</text>
<text x="77.2" y="221.56" font-size="11.7" letter-spacing="0.25" text-anchor="end" style="fill:#000">140</text>
<text x="77.2" y="195.04" font-size="11.7" letter-spacing="0.25" text-anchor="end" style="fill:#000">160</text>
<text x="483.6" y="405.1" font-size="11.7" letter-spacing="0.25" style="fill:#000">0</text>
<text x="483.6" y="366.7" font-size="11.7" letter-spacing="0.25" style="fill:#000">20</text>
<text x="483.6" y="328.3" font-size="11.7" letter-spacing="0.25" style="fill:#000">40</text>
<text x="483.6" y="289.9" font-size="11.7" letter-spacing="0.25" style="fill:#000">60</text>
<text x="483.6" y="251.5" font-size="11.7" letter-spacing="0.25" style="fill:#000">80</text>
<text x="483.6" y="213.1" font-size="11.7" letter-spacing="0.25" style="fill:#000">100</text>
<text x="483.6" y="174.7" font-size="11.7" letter-spacing="0.25" style="fill:#000">120</text>
<text x="106.1" y="446.4" font-size="11.7" letter-spacing="0.25" text-anchor="middle" style="fill:#000">-40</text>
<text x="140.95" y="446.4" font-size="11.7" letter-spacing="0.25" text-anchor="middle" style="fill:#000">-35</text>
<text x="175.8" y="446.4" font-size="11.7" letter-spacing="0.25" text-anchor="middle" style="fill:#000">-30</text>
<text x="210.65" y="446.4" font-size="11.7" letter-spacing="0.25" text-anchor="middle" style="fill:#000">-25</text>
<text x="245.5" y="446.4" font-size="11.7" letter-spacing="0.25" text-anchor="middle" style="fill:#000">-20</text>
<text x="280.35" y="446.4" font-size="11.7" letter-spacing="0.25" text-anchor="middle" style="fill:#000">-15</text>
<text x="315.2" y="446.4" font-size="11.7" letter-spacing="0.25" text-anchor="middle" style="fill:#000">-10</text>
<text x="350.05" y="446.4" font-size="11.7" letter-spacing="0.25" text-anchor="middle" style="fill:#000">-5</text>
<text x="385.9" y="446.4" font-size="11.7" letter-spacing="0.25" text-anchor="middle" style="fill:#000">0</text>
<text x="420.75" y="446.4" font-size="11.7" letter-spacing="0.25" text-anchor="middle" style="fill:#000">5</text>
<text x="455.6" y="446.4" font-size="11.7" letter-spacing="0.25" text-anchor="middle" style="fill:#000">10</text>
<text x="330" y="446" font-size="12" class="se it" font-weight="bold" style="fill:#e0191f">t<tspan font-size="8.2" dy="1.6">ct</tspan></text>
<rect x="96.8" y="181" width="115.4" height="36.5" fill="#fff" stroke="#000" stroke-width="1"/>
<line x1="103" y1="189.8" x2="137.7" y2="189.8" stroke="#7c7c7c" stroke-width="0.8"/><rect x="118.8" y="188.2" width="3.2" height="3.2" fill="#e8141c"/>
<line x1="103" y1="206" x2="137.7" y2="206" stroke="#7c7c7c" stroke-width="0.8"/><path d="M120.4 203.6l2.4 2.4l-2.4 2.4l-2.4-2.4z" fill="#1212d6"/>
<g style="fill:#000">
<text x="143" y="192.8" font-size="9">Neck width</text>
<text x="190.6" y="192" font-size="12" class="se it">w<tspan font-size="8.2" dy="2">nk</tspan></text>
<text x="143" y="209.9" font-size="9">Bulb length</text>
<text x="194.4" y="210.5" font-size="10.6" class="se it">L</text>
<text x="91" y="262" font-size="10.2">Neck width</text>
<text x="146.2" y="261.6" font-size="13" class="se it">w<tspan font-size="9" dy="2.2">nk</tspan></text>
<text x="191.5" y="249.8" font-size="10.2">Bulb length</text>
<text x="244.8" y="250.2" font-size="11.5" class="se it">L</text>
<text x="233.7" y="394.2" font-size="9.45">Critical bulb length</text>
<text x="314" y="394.6" font-size="11" class="se it">L<tspan font-size="7.8" dy="1.8">ct</tspan></text>
<text x="215.6" y="421.4" font-size="9.5">Steady filling stage</text>
<text x="399.9" y="394.6" font-size="9.35">Rapid filling</text>
<text x="399.9" y="406.2" font-size="9.35">stage</text>
</g>
<g transform="translate(51.3,377) rotate(-90)" style="fill:#000"><text x="0" y="0" font-size="13.4">Neck width</text><text x="70.4" y="0" font-size="16" class="se it">w</text><text x="82" y="2.6" font-size="11" class="se it">nk</text><text x="100.3" y="0" font-size="13.6">(µm)</text></g>
<g transform="translate(513.6,371.6) rotate(-90)" style="fill:#000"><text x="0" y="0" font-size="13.4">Bulb length</text><text x="72.6" y="0" font-size="14" class="se it">L</text><text x="90.6" y="0" font-size="13.6">(µm)</text></g>
<g style="fill:#000"><text x="240" y="472" font-size="13">Time</text><text x="277.3" y="472" font-size="15" class="se it">t</text><text x="285.6" y="472" font-size="15" class="se">−</text><text x="299.3" y="472" font-size="15" class="se it">t</text><text x="304.4" y="474.6" font-size="10.4" class="se it">b</text><text x="317.6" y="472" font-size="14.6" class="se">(ms)</text></g>
</svg></body></html>
